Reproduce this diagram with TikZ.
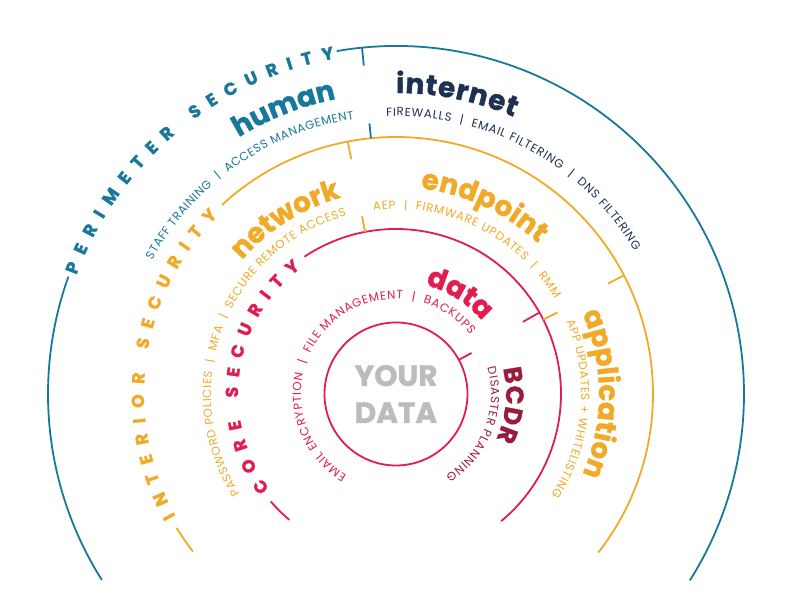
\documentclass[tikz,border=0pt]{standalone}
\usepackage{fontspec}
\setmainfont{Poppins}
\newfontfamily\heavyfont{Poppins Bold}[FakeBold=1.2]
\usetikzlibrary{decorations.text}

\definecolor{perimblue}{HTML}{17789B}
\definecolor{netnavy}{HTML}{1D3152}
\definecolor{interorange}{HTML}{F1A928}
\definecolor{corered}{HTML}{E11C4F}
\definecolor{bcdrred}{HTML}{9A1C3D}
\definecolor{centergray}{HTML}{BCBCBF}

\newcommand{\ringnamefont}{\heavyfont\fontsize{17.5}{17.5}\selectfont}
\newcommand{\layerfont}{\heavyfont\fontsize{28}{28}\selectfont}
\newcommand{\itemfont}{\fontsize{11.8}{11.8}\selectfont}

% text set clockwise on an arc: colour, font, radius, start angle, end angle, text
\newcommand{\ringtext}[6]{%
  \path[decorate, decoration={text along path, text format delimiters={[}{]},
      text color=#1, text={[#2]#6}, text align={fit to path}}]
    (#4:#3) arc[start angle=#4, end angle=#5, radius=#3pt];}

\tikzset{
  ring/.style={line width=1.8pt},
  tick/.style={line width=1.8pt}
}

\begin{document}
\begin{tikzpicture}[x=1pt, y=1pt]
  \useasboundingbox (-396,-218) rectangle (396,394);

  % Draw the perimeter ring
  \draw[ring, perimblue] (99.8:348) arc[start angle=99.8, end angle=-32.4, radius=348pt];
  \draw[ring, perimblue] (160.3:348) arc[start angle=160.3, end angle=212.3, radius=348pt];

  % Draw the interior ring
  \draw[ring, interorange] (132.6:257) arc[start angle=132.6, end angle=-38.1, radius=257pt];
  \draw[ring, interorange] (211.4:257) arc[start angle=211.4, end angle=217.8, radius=257pt];

  % Draw the core ring
  \draw[ring, corered] (123.7:165) arc[start angle=123.7, end angle=-50.4, radius=165pt];
  \draw[ring, corered] (220.6:165) arc[start angle=220.6, end angle=229.7, radius=165pt];

  % Draw the centre
  \draw[ring, corered] (0,0) circle [radius=71.5pt];
  \node[font=\heavyfont\fontsize{29.5}{37}\selectfont, text=centergray, align=center] (yourdata) at (0,0) {YOUR\\DATA};

  % Draw the ticks between the sectors
  \draw[tick, perimblue] (95.6:348) -- (95.6:330);
  \draw[tick, perimblue] (95.6:257) -- (95.6:272);
  \draw[tick, interorange] (100.8:257) -- (100.8:239);
  \draw[tick, interorange] (100.8:165) -- (100.8:181);
  \draw[tick, interorange] (27.5:257) -- (27.5:239);
  \draw[tick, interorange] (26.8:165) -- (26.8:181);
  \draw[tick, corered] (29.6:165) -- (29.6:146);
  \draw[tick, corered] (28.5:71.5) -- (28.5:86);

  % Perimeter labels
  \ringtext{perimblue}{\ringnamefont}{341}{159.6}{100.4}{PERIMETER SECURITY}
  \ringtext{perimblue}{\layerfont}{301}{121.5}{101.5}{human}
  \ringtext{perimblue}{\itemfont}{278}{151.3}{98.7}{STAFF TRAINING \ | \ ACCESS MANAGEMENT}
  \ringtext{netnavy}{\layerfont}{301}{90}{67}{internet}
  \ringtext{netnavy}{\itemfont}{278}{92}{31}{FIREWALLS \ | \ EMAIL FILTERING \ | \ DNS FILTERING}

  % Interior labels
  \ringtext{interorange}{\ringnamefont}{252}{209}{135}{INTERIOR SECURITY}
  \ringtext{interorange}{\layerfont}{204}{139}{107}{network}
  \ringtext{interorange}{\itemfont}{185}{212.4}{105.5}{PASSWORD POLICIES \ | \ MFA \ | \ SECURE REMOTE ACCESS}
  \ringtext{interorange}{\layerfont}{207}{83.2}{46.7}{endpoint}
  \ringtext{interorange}{\itemfont}{185}{97}{31}{AEP \ | \ FIRMWARE UPDATES \ | \ RMM}
  \ringtext{interorange}{\layerfont}{203}{23.5}{-22.6}{application}
  \ringtext{interorange}{\itemfont}{185}{23}{-33}{APP UPDATES + WHITELISTING}

  % Core labels
  \ringtext{corered}{\ringnamefont}{158}{216.8}{127.2}{CORE SECURITY}
  \ringtext{corered}{\layerfont}{113}{75}{42}{data}
  \ringtext{corered}{\itemfont}{95}{238.7}{38.6}{EMAIL ENCRYPTION \ | \ FILE MANAGEMENT \ | \ BACKUPS}
  \ringtext{bcdrred}{\heavyfont\fontsize{25}{25}\selectfont}{110}{13.5}{-24.5}{BCDR}
  \ringtext{bcdrred}{\itemfont}{95}{16}{-58.6}{DISASTER PLANNING}
\end{tikzpicture}
\end{document}
